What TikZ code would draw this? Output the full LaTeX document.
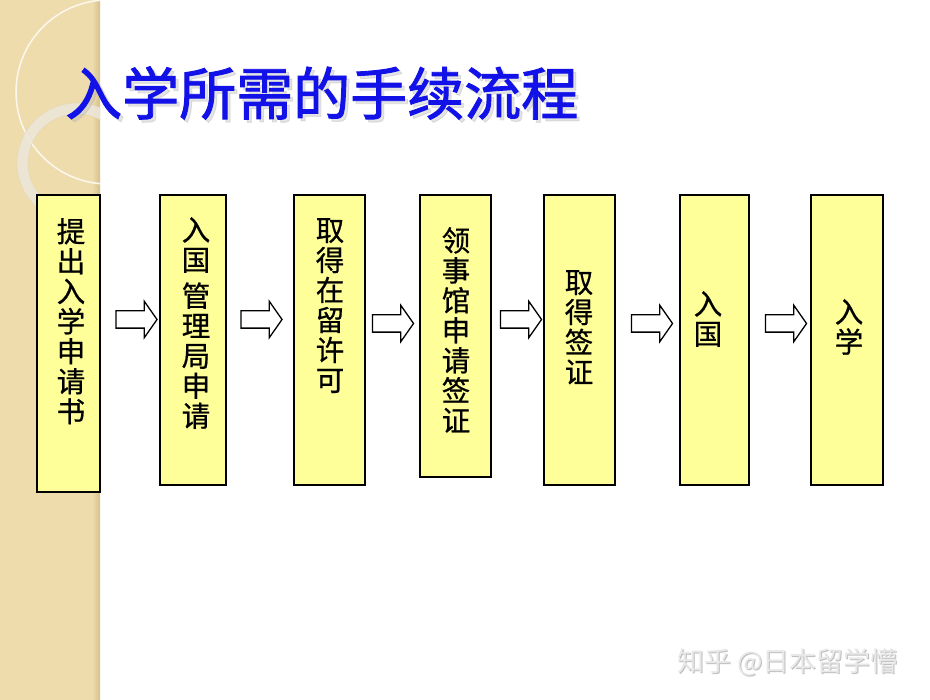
\documentclass[tikz,border=0pt]{standalone}
\usepackage{fontspec}
\newfontfamily\cjk{Noto Sans CJK SC}
\newfontfamily\cjkt[FakeBold=1.6]{Noto Sans CJK SC}
\newfontfamily\cjkb[FakeBold=0.7]{Noto Sans CJK SC}
\usetikzlibrary{shapes.arrows,calc}
\definecolor{strip}{RGB}{238,220,172}
\definecolor{stripdark}{RGB}{214,192,140}
\definecolor{stripl}{RGB}{244,232,200}
\definecolor{ringc}{RGB}{236,231,220}
\definecolor{boxfill}{RGB}{255,255,153}
\definecolor{titleblue}{RGB}{18,18,232}
\tikzset{
  stepbox/.style={draw=black, line width=1.6pt, fill=boxfill, rectangle, inner sep=0pt},
  steptext/.style={anchor=north, inner sep=0pt, align=center, font=\cjkb\fontsize{28.5}{30}\selectfont},
  hollowarrow/.style={single arrow, draw=black, line width=1.3pt, fill=white, inner xsep=0pt, inner ysep=8pt,
     single arrow head extend=9.5pt, single arrow tip angle=110, minimum height=41pt}
}
\begin{document}
\begin{tikzpicture}[x=1pt,y=-1pt]
\useasboundingbox (0,0) rectangle (930,700);
\fill[white] (0,0) rectangle (930,700);
% left decorative strip
\fill[strip] (0,0) rectangle (100,700);
\shade[left color=strip, right color=stripdark] (92,0) rectangle (100,700);
\begin{scope}
\clip (0,0) rectangle (100,700);
\fill[stripl] (0,0) -- (80,0) arc[start angle=0, end angle=-90, radius=80] -- cycle;
\draw[white!85!strip, line width=1.2pt] (80,0) arc[start angle=0, end angle=-90, radius=80];
\draw[white!80!strip, line width=1.5pt] (108,92) circle[radius=92];
\fill[ringc, opacity=0.85, even odd rule] (77,163) circle[radius=60] (77,163) circle[radius=49];
\draw[stripdark!70!white, line width=0.6pt, opacity=0.6] (77,163) circle[radius=60] (77,163) circle[radius=49];
\end{scope}
% title (with its soft shadow)
\node[anchor=west, inner sep=0pt, text=gray!60, opacity=0.35, font=\cjkt\fontsize{57}{60}\selectfont] at (68,96) {入学所需的手续流程};
\node (title) [anchor=west, inner sep=0pt, text=titleblue, font=\cjkt\fontsize{57}{60}\selectfont] at (65,93) {入学所需的手续流程};
% boxes
\node (b1) [stepbox, minimum width=63pt, minimum height=297pt] at (68.5,343.5) {};
\node (b2) [stepbox, minimum width=66pt, minimum height=290pt] at (193,340) {};
\node (b3) [stepbox, minimum width=71pt, minimum height=290pt] at (329.5,340) {};
\node (b4) [stepbox, minimum width=71pt, minimum height=282pt] at (455.5,336) {};
\node (b5) [stepbox, minimum width=71pt, minimum height=290pt] at (579.5,340) {};
\node (b6) [stepbox, minimum width=69pt, minimum height=290pt] at (714.5,340) {};
\node (b7) [stepbox, minimum width=72pt, minimum height=290pt] at (847,340) {};
% texts
\node (t1) [steptext] at (71,218) {提\\出\\入\\学\\申\\请\\书};
\node (t2) [steptext] at (196,217) {入\\国\\[6pt]管\\理\\局\\申\\请};
\node (t3) [steptext] at (330,218) {取\\得\\在\\留\\许\\可};
\node (t4) [steptext] at (456,227) {领\\事\\馆\\申\\请\\签\\证};
\node (t5) [steptext] at (579,270) {取\\得\\签\\证};
\node (t6) [steptext] at (708,291) {入\\国};
\node (t7) [steptext] at (849,299) {入\\学};
% hollow arrows between boxes
\node (a1) [hollowarrow] at (133.5,319.5) {};
\node (a2) [hollowarrow] at (258.5,319.5) {};
\node (a3) [hollowarrow] at (390,323.5) {};
\node (a4) [hollowarrow] at (518,319.5) {};
\node (a5) [hollowarrow] at (649,323.5) {};
\node (a6) [hollowarrow] at (783,323.5) {};
% watermark (embossed)
\node[anchor=west, inner sep=0pt, text=gray!50, font=\cjk\fontsize{27}{30}\selectfont] at (678,663) {知乎 @日本留学懵};
\node (wm) [anchor=west, inner sep=0pt, text=gray!18, font=\cjk\fontsize{27}{30}\selectfont] at (677,662) {知乎 @日本留学懵};
\end{tikzpicture}
\end{document}
